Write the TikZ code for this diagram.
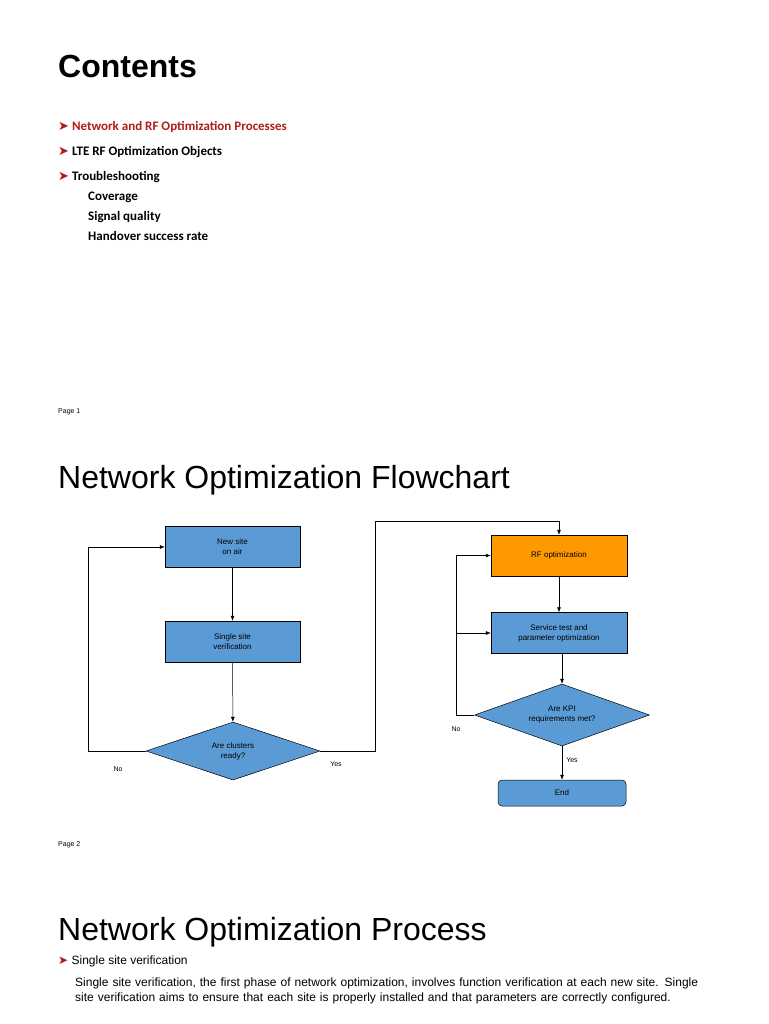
\documentclass[tikz,border=0pt]{standalone}
\usepackage{fontspec}
\setmainfont{Liberation Sans}
\newfontfamily\carlitofont{Carlito}
\newfontfamily\dejafont{DejaVu Sans}
\newcommand{\arr}{{\dejafont\color{dred}➤}}
\usetikzlibrary{shapes.geometric,arrows.meta}
\definecolor{bl}{HTML}{5B9BD5}
\definecolor{org}{HTML}{FF9900}
\definecolor{dred}{HTML}{B01C1C}
\begin{document}
\begin{tikzpicture}[x=1pt,y=-1pt,
 box/.style={draw=black,line width=0.5pt,fill=bl,minimum width=135pt,minimum height=41pt,font=\fontsize{8}{10}\selectfont,align=center,inner sep=1pt},
 dia/.style={draw=black,line width=0.5pt,fill=bl,diamond,aspect=3,font=\fontsize{8}{10}\selectfont,align=center,inner sep=0pt},
 ln/.style={line width=0.5pt,-{Latex[length=5pt,width=4pt]}},
 lbl/.style={font=\fontsize{7}{9}\selectfont,inner sep=0pt},
 big/.style={anchor=west,inner sep=0pt,font=\fontsize{32}{36}\selectfont},
 itm/.style={anchor=west,inner sep=0pt,font=\carlitofont\fontsize{13}{15}\selectfont},
 pg/.style={anchor=west,inner sep=0pt,font=\fontsize{7}{9}\selectfont}]
\useasboundingbox (0,0) rectangle (768,1024);
\node[big,font=\fontsize{32}{36}\selectfont\bfseries] (t1) at (58,66) {Contents};
\node[itm,text=dred] (i1) at (58,127) {\arr\ \textbf{Network and RF Optimization Processes}};
\node[itm] (i2) at (58,152) {\arr\ \textbf{LTE RF Optimization Objects}};
\node[itm] (i3) at (58,177) {\arr\ \textbf{Troubleshooting}};
\node[itm] (i4) at (88,197) {\textbf{Coverage}};
\node[itm] (i5) at (88,217) {\textbf{Signal quality}};
\node[itm] (i6) at (88,236) {\textbf{Handover success rate}};
\node[pg] (p1) at (58,412) {Page 1};
\node[big] (t2) at (58,480) {Network Optimization Flowchart};
\node[box] (a) at (232.5,547) {New site\\on air};
\node[box] (b) at (232.5,641.5) {Single site\\verification};
\node[dia,minimum width=174pt,minimum height=58pt] (c) at (233,751) {Are clusters\\ready?};
\node[box,fill=org,minimum width=136pt] (d) at (559,555.5) {RF optimization};
\node[box,minimum width=136pt] (e) at (559,633) {Service test and\\parameter optimization};
\node[dia,minimum width=175pt,minimum height=62pt] (f) at (562,715) {Are KPI\\requirements met?};
\node[box,rounded corners=4pt,minimum width=128pt,minimum height=26pt] (g) at (562,793) {End};
\coordinate (ty) at (375,521);
\draw[ln] (a) -- (b);
\draw[ln] (b) -- (c);
\draw[ln] (c.west) -| (88,547) -- (a.west);
\draw[ln] (c.east) -| (ty) -| (d.north);
\draw[ln] (d) -- (e);
\draw[ln] (e.south -| f.north) -- (f.north);
\draw[ln] (f.west) -| (456,555.5) -- (d.west);
\draw[ln] (456,633) -- (e.west);
\draw[ln] (f.south) -- (g.north);
\node[lbl] (n1) at (118,769) {No};
\node[lbl] (y1) at (336,764) {Yes};
\node[lbl] (n2) at (456,729) {No};
\node[lbl] (y2) at (572,760) {Yes};
\node[pg] (p2) at (58,845) {Page 2};
\node[big] (t3) at (58,932) {Network Optimization Process};
\node[anchor=west,inner sep=0pt,font=\fontsize{12}{14}\selectfont] (b1) at (58,961) {\arr\ Single site verification};
\node[anchor=north west,inner sep=0pt,text width=640pt,font=\fontsize{12}{15}\selectfont] (par) at (75,978) {Single site verification, the first phase of network optimization, involves function verification at each new site. Single site verification aims to ensure that each site is properly installed and that parameters are correctly configured.};
\end{tikzpicture}
\end{document}
